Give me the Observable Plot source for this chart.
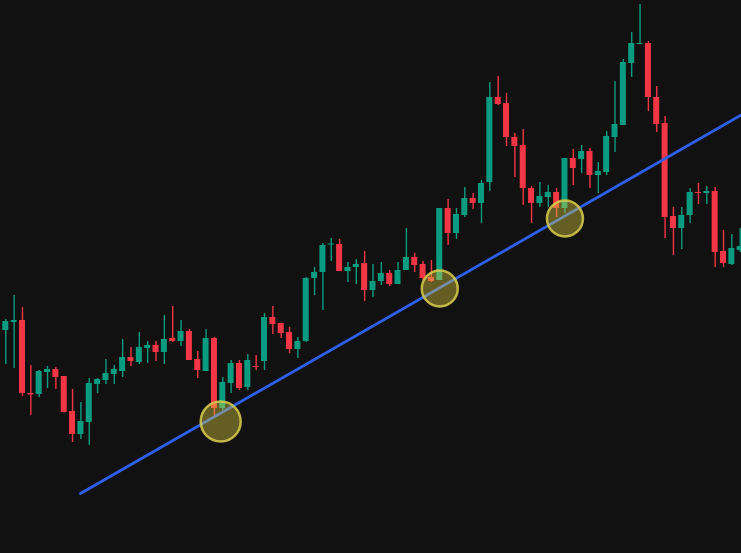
<!DOCTYPE html>
<html>
<head>
<meta charset="utf-8">
<script src="https://cdn.jsdelivr.net/npm/d3@7"></script>
<script src="https://cdn.jsdelivr.net/npm/@observablehq/plot@0.6"></script>
<style>
  html, body { margin: 0; padding: 0; background: #111111; overflow: hidden; }
  #chart svg { display: block; }
</style>
</head>
<body>
<div id="chart"></div>
<script>
// Candle OHLC values (price units)
const opens = [27.0,27.8,28.0,20.7,20.6,22.8,23.1,22.4,18.9,16.6,17.8,21.6,22.0,22.6,22.9,24.3,23.8,25.2,25.5,24.8,26.2,25.9,26.9,24.1,22.9,26.2,19.2,21.7,23.7,21.3,23.4,23.9,28.3,27.7,26.8,25.1,25.9,32.2,32.8,35.55,35.6,32.9,33.3,33.7,31.0,31.9,32.7,31.6,33.0,34.3,33.6,32.3,32.0,39.2,36.7,38.5,40.2,39.7,41.8,50.3,49.7,46.3,45.5,41.2,39.7,40.3,40.8,39.2,44.2,44.1,44.9,42.5,42.8,46.3,47.5,53.7,55.6,55.7,50.3,47.7,38.4,37.2,38.5,40.8,40.7,40.9,34.9,33.6,35.0];
const closes = [27.9,28.0,20.7,20.55,22.9,23.1,22.3,18.8,16.6,17.9,21.7,22.1,22.7,23.1,24.3,23.9,25.3,25.5,24.8,26.1,25.9,26.9,24.0,23.0,26.2,19.2,21.8,23.7,21.2,24.0,23.3,28.3,27.6,26.7,25.1,25.9,32.2,32.8,35.5,35.65,32.9,33.3,33.6,31.0,31.9,32.7,31.6,33.0,34.3,33.5,32.2,31.9,39.2,36.7,38.6,40.2,39.7,41.7,50.3,49.6,46.3,45.4,41.2,39.7,40.4,40.8,39.2,44.2,43.2,44.9,42.5,42.9,46.4,47.6,53.8,55.7,55.7,50.3,47.6,38.3,37.2,38.5,40.8,40.7,40.9,34.8,33.7,35.2,35.4];
const highs = [28.1,30.5,29.3,23.5,23.0,23.4,23.3,22.4,21.1,19.8,22.2,22.2,24.1,23.5,26.1,25.3,26.8,25.9,25.9,28.5,29.4,28.0,27.1,24.9,27.1,26.3,22.3,24.0,24.0,24.6,24.5,28.7,29.4,27.7,27.3,26.3,32.3,33.3,35.7,36.2,36.1,33.8,34.1,34.9,33.6,33.8,33.0,33.8,37.2,34.7,33.9,34.0,39.2,40.1,39.2,41.3,40.7,42.0,51.8,52.4,50.7,46.7,47.1,41.4,41.8,41.5,41.2,44.2,45.1,45.5,45.2,43.8,46.9,51.9,54.1,56.8,59.6,55.9,51.4,48.4,39.3,39.3,41.2,41.7,41.4,41.3,37.0,36.6,37.2];
const lows = [23.6,23.2,20.4,18.5,20.3,21.2,21.1,18.75,15.8,16.1,15.5,20.7,21.6,21.6,22.3,23.4,23.6,23.7,23.9,23.6,25.8,25.4,24.0,22.2,22.9,18.3,19.0,20.7,21.0,21.0,23.0,23.0,26.6,26.2,24.7,24.2,25.8,30.5,29.0,33.9,32.9,31.8,31.6,29.9,30.3,31.5,31.4,31.6,33.0,32.8,32.0,31.8,32.0,35.5,36.1,38.3,39.1,37.7,40.9,49.5,45.4,42.3,39.5,37.7,39.3,39.3,38.3,38.7,41.5,42.7,41.2,40.7,42.5,44.8,47.5,52.3,55.6,48.9,46.8,36.2,34.5,35.1,37.7,39.6,39.6,33.3,33.3,33.5,34.8];

// Trend line (two anchor points: candle index, price)
const trendIndex = [8.95, 89];
const trendPrice = [10.7, 48.96];

// Touch points highlighted on the trend line
const touchIndex = [25.75, 52.0, 67.0];
const touchPrice = [17.9, 31.2, 38.2];

const candles = opens.map((o, i) => ({
  i, open: o, close: closes[i], high: highs[i], low: lows[i],
  up: closes[i] >= o
}));
const trend = trendIndex.map((x, k) => ({x, y: trendPrice[k]}));
const touches = touchIndex.map((x, k) => ({x, y: touchPrice[k]}));

const GREEN = "#0a9c80", RED = "#f23645";
const half = 0.36;

const chart = Plot.plot({
  width: 741,
  height: 553,
  margin: 0,
  style: {background: "#111111"},
  x: {type: "linear", domain: [0, 88], range: [5.3, 739.7], axis: null},
  y: {type: "linear", domain: [4.7, 60], range: [553, 0], axis: null},
  r: {type: "identity"},
  marks: [
    Plot.ruleX(candles, {
      x: "i", y1: "low", y2: "high",
      stroke: d => d.up ? GREEN : RED, strokeWidth: 1.4
    }),
    Plot.rect(candles, {
      x1: d => d.i - half, x2: d => d.i + half,
      y1: "open", y2: "close",
      fill: d => d.up ? GREEN : RED
    }),
    Plot.line(trend, {
      x: "x", y: "y", stroke: "#2f5fe8", strokeWidth: 2.8
    }),
    Plot.dot(touches, {
      x: "x", y: "y", r: (d, k) => k === 0 ? 20 : 18,
      fill: "#e0d040", fillOpacity: 0.4,
      stroke: "#d8cc4c", strokeOpacity: 0.85, strokeWidth: 2.5
    })
  ]
});
document.getElementById("chart").appendChild(chart);
</script>
</body>
</html>
